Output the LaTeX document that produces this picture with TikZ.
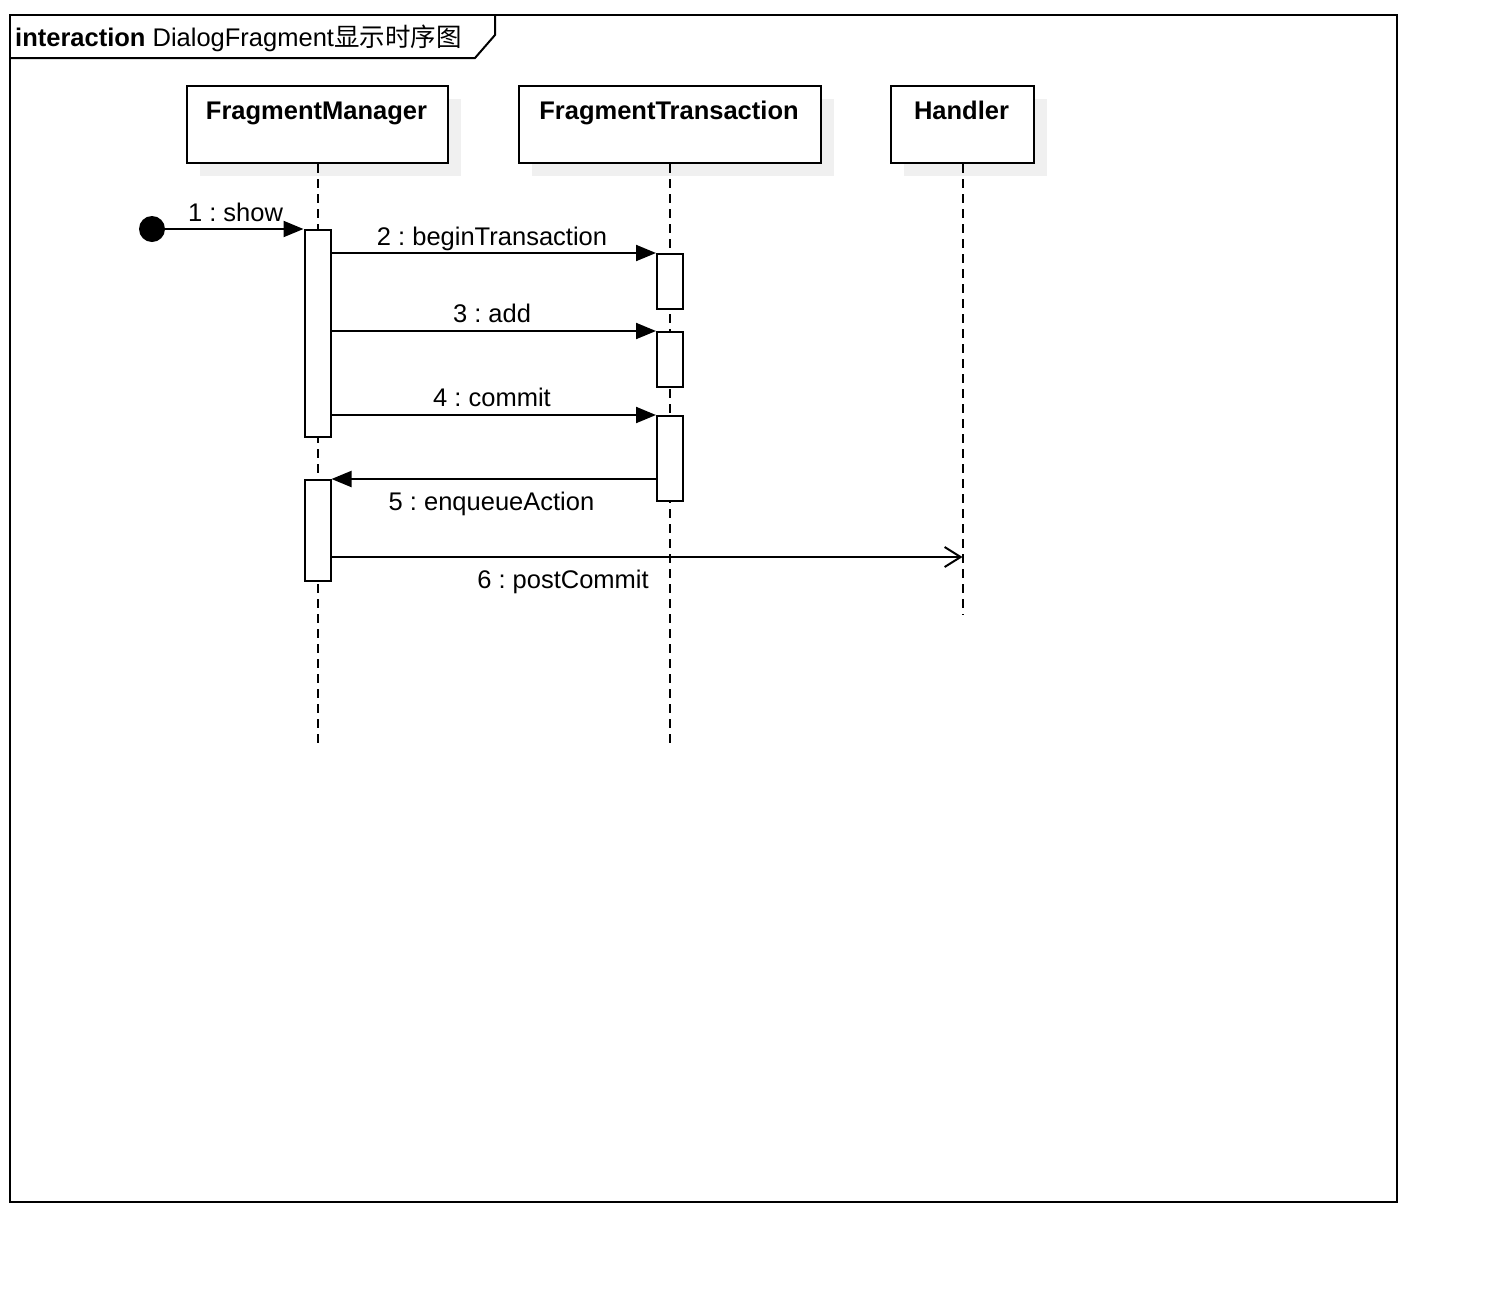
\documentclass[tikz,border=0pt]{standalone}
\usepackage{fontspec}
\setmainfont{Liberation Sans}
\newfontfamily\cjk{Noto Sans CJK SC}
\usetikzlibrary{arrows.meta}
\frenchspacing
\begin{document}
\begin{tikzpicture}[x=1pt,y=-1pt,
  line/.style={line width=2pt},
  headbox/.style={draw, line width=2pt, fill=white, inner sep=0pt, minimum height=77pt, anchor=north west},
  headtext/.style={font=\fontsize{25.5}{30}\selectfont\bfseries, inner sep=0pt, anchor=base},
  msgtext/.style={font=\fontsize{25.5}{30}\selectfont, inner sep=0pt, anchor=base},
  lifeline/.style={line width=2pt, dash pattern=on 9pt off 6pt},
  act/.style={draw, fill=white, line width=2pt, minimum width=26pt, inner sep=0pt, anchor=north},
  sync/.style={line width=2pt, -{Triangle[length=20pt,width=16pt]}},
  async/.style={line width=2pt, -{Straight Barb[length=16pt,width=20pt,line width=2pt]}}
]
\useasboundingbox (0,0) rectangle (1488,1288);
% frame
\draw[line] (10,15) rectangle (1397,1202);
\draw[line] (10,58) -- (475,58) -- (495,35) -- (495,15);
\node[anchor=base west, inner sep=0pt, font=\fontsize{25.5}{30}\selectfont] (title) at (15,46) {\textbf{interaction} DialogFragment{\cjk 显示时序图}};
% shadows
\fill[black!6] (200,99) rectangle (461,176);
\fill[black!6] (532,99) rectangle (834,176);
\fill[black!6] (904,99) rectangle (1047,176);
% heads
\node[headbox, minimum width=261pt] (fmh) at (186,85) {};
\node[headbox, minimum width=302pt] (fth) at (518,85) {};
\node[headbox, minimum width=143pt] (hh) at (890,85) {};
\node[headtext] (fmt) at (316.5,119) {FragmentManager};
\node[headtext] (ftt) at (669,119) {FragmentTransaction};
\node[headtext] (hht) at (961.5,119) {Handler};
% lifeline ends
\coordinate (fmend) at (fmh.south |- 0,747);
\coordinate (ftend) at (fth.south |- 0,747);
\coordinate (hend) at (hh.south |- 0,615);
\draw[lifeline] (fmh.south) -- (fmend);
\draw[lifeline] (fth.south) -- (ftend);
\draw[lifeline] (hh.south) -- (hend);
% activations
\node[act, minimum height=207pt] (fm1) at (fmh.south |- 0,229) {};
\node[act, minimum height=101pt] (fm2) at (fmh.south |- 0,479) {};
\node[act, minimum height=55pt] (ft1) at (fth.south |- 0,253) {};
\node[act, minimum height=55pt] (ft2) at (fth.south |- 0,331) {};
\node[act, minimum height=85pt] (ft3) at (fth.south |- 0,415) {};
% start
\fill (152,229) circle (13pt);
\coordinate (start) at (152,229);
\draw[sync] (start) -- (fm1.north west);
\node[msgtext] (m1) at (235.5,221) {1 : show};
\draw[sync] (fm1.east |- ft1.north) -- (ft1.north west);
\node[msgtext] (m2) at (492,245) {2 : beginTransaction};
\draw[sync] (fm1.east |- ft2.north) -- (ft2.north west);
\node[msgtext] (m3) at (492,322) {3 : add};
\draw[sync] (fm1.east |- ft3.north) -- (ft3.north west);
\node[msgtext] (m4) at (492,406) {4 : commit};
\draw[sync] (ft3.west |- fm2.north) -- (fm2.north east);
\node[msgtext] (m5) at (491.5,510) {5 : enqueueAction};
\coordinate (h6) at (hh.south |- 0,557);
\draw[async] (fm2.east |- h6) -- (h6);
\node[msgtext] (m6) at (563,588) {6 : postCommit};
\end{tikzpicture}
\end{document}
